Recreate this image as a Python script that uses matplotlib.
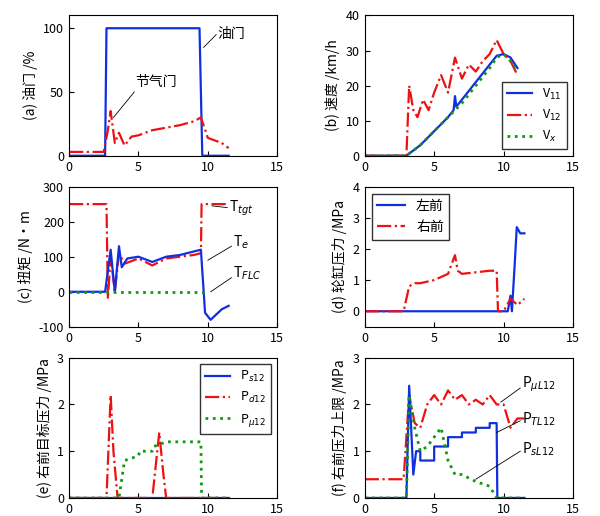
import matplotlib
matplotlib.use("Agg")
import matplotlib.pyplot as plt

plt.rcParams['font.family'] = ['Noto Sans CJK SC', 'DejaVu Sans']
plt.rcParams['axes.unicode_minus'] = False

B, R, G = '#1030e0', '#ee1111', '#119911'

# (a)
a_thr_t = [0, 2.6, 2.7, 9.4, 9.6, 11.5]
a_thr_v = [0, 0, 100, 100, 0, 0]
a_valve_t = [0, 2.5, 2.8, 3.0, 3.3, 3.6, 4.0, 4.5, 5, 6, 7, 8, 9, 9.5, 10, 11, 11.5]
a_valve_v = [3, 3, 20, 35, 10, 18, 8, 15, 16, 20, 22, 24, 27, 30, 14, 10, 6]
# (b)
b_v11_t = [0, 3.0, 4, 5, 6, 6.4, 6.5, 6.6, 7, 8, 9, 9.5, 10, 10.5, 11]
b_v11_v = [0, 0, 3, 7, 11, 13, 17, 14, 16, 21, 26, 28.5, 29, 28, 25]
b_v12_t = [0, 3.0, 3.2, 3.5, 3.8, 4.2, 4.6, 5.0, 5.5, 6.0, 6.5, 7.0, 7.5, 8, 8.5, 9, 9.5, 10, 10.5, 11]
b_v12_v = [0, 0, 20, 13, 11, 16, 13, 18, 23, 18, 28, 22, 26, 24, 27, 29, 33, 29, 27, 23]
b_vx_t = [0, 3.0, 4, 5, 6, 7, 8, 9, 9.5, 10, 10.5, 11]
b_vx_v = [0, 0, 3, 7, 11, 15, 20, 25, 28, 29, 27, 24]
# (c)
c_ttgt_t = [0, 2.7, 2.8, 3.0, 3.3, 3.6, 4, 5, 6, 7, 8, 9, 9.5, 9.55, 11.5]
c_ttgt_v = [250, 250, -20, 100, 0, 110, 80, 95, 75, 95, 100, 105, 110, 250, 250]
c_te_t = [0, 2.6, 3.0, 3.3, 3.6, 3.8, 4.2, 5, 6, 7, 8, 9, 9.5, 9.8, 10.2, 11, 11.5]
c_te_v = [0, 0, 120, 0, 130, 70, 95, 100, 85, 100, 105, 115, 120, -60, -80, -50, -40]
c_tflc_t = [0, 10]
c_tflc_v = [0, 0]
# (d)
d_left_t = [0, 10.3, 10.5, 10.6, 10.8, 10.95, 11.2, 11.5]
d_left_v = [0, 0, 0.5, 0, 1.5, 2.7, 2.5, 2.5]
d_right_t = [0, 2.8, 3.2, 3.6, 4, 5, 5.5, 6, 6.5, 6.7, 7, 8, 9, 9.5, 9.6, 10, 10.5, 11, 11.5]
d_right_v = [0, 0, 0.8, 0.9, 0.9, 1.0, 1.1, 1.2, 1.8, 1.3, 1.2, 1.25, 1.3, 1.3, 0, 0, 0.4, 0.2, 0.4]
# (e)
e_ps_t = [0, 11.5]
e_ps_v = [0, 0]
e_pd_t = [0, 2.7, 3.0, 3.2, 3.5, 6.0, 6.5, 6.8, 7.0, 11.5]
e_pd_v = [0, 0, 2.2, 1.0, 0, 0, 1.4, 0.5, 0, 0]
e_pm_t = [0, 3.6, 4.0, 5.0, 5.1, 6.0, 6.1, 7.0, 9.5, 9.55, 11.5]
e_pm_v = [0, 0, 0.8, 0.9, 1.0, 1.0, 1.1, 1.2, 1.2, 0, 0]
# (f)
f_pml_t = [0, 2.8, 3.2, 3.6, 4, 4.5, 5, 5.5, 6, 6.5, 7, 7.5, 8, 8.5, 9, 9.5, 10, 10.5, 11, 11.5]
f_pml_v = [0.4, 0.4, 2.2, 1.6, 1.5, 2.0, 2.2, 2.0, 2.3, 2.1, 2.2, 2.0, 2.1, 2.0, 2.2, 2.0, 2.0, 1.5, 1.7, 1.7]
f_ptl_t = [0, 3.0, 3.2, 3.5, 3.7, 4.0, 4.0, 5.0, 5.0, 6.0, 6.0, 7.0, 7.0, 8.0, 8.0, 9.0, 9.0, 9.5, 9.55, 11.5]
f_ptl_v = [0, 0, 2.4, 0.5, 1.0, 1.0, 0.8, 0.8, 1.1, 1.1, 1.3, 1.3, 1.4, 1.4, 1.5, 1.5, 1.6, 1.6, 0, 0]
f_psl_t = [0, 3.0, 3.2, 3.6, 4.0, 4.5, 5.0, 5.5, 6.0, 6.5, 7.0, 8.0, 9.0, 9.5, 11.5]
f_psl_v = [0, 0, 2.2, 1.5, 1.0, 1.1, 1.3, 1.5, 0.8, 0.5, 0.5, 0.35, 0.25, 0, 0]

fig, axs = plt.subplots(3, 2, figsize=(6, 5.16), dpi=100)
plt.subplots_adjust(left=0.115, right=0.955, top=0.97, bottom=0.035, wspace=0.42, hspace=0.22)
kw = dict(lw=1.6)

ax = axs[0, 0]
ax.plot(a_thr_t, a_thr_v, color=B, **kw)
ax.plot(a_valve_t, a_valve_v, color=R, ls='-.', **kw)
ax.set_ylim(0, 110); ax.set_yticks([0, 50, 100])
ax.set_ylabel('(a) 油门 /%')
ax.text(10.7, 92, '油门', fontsize=10)
ax.text(4.8, 55, '节气门', fontsize=10)
ax.plot([9.7, 10.6], [85, 95], color='k', lw=0.6)
ax.plot([3.2, 4.7], [30, 50], color='k', lw=0.6)

ax = axs[0, 1]
ax.plot(b_v11_t, b_v11_v, color=B, label='V$_{11}$', **kw)
ax.plot(b_v12_t, b_v12_v, color=R, ls='-.', label='V$_{12}$', **kw)
ax.plot(b_vx_t, b_vx_v, color=G, ls=':', label='V$_x$', lw=2)
ax.set_ylim(0, 40)
ax.set_ylabel('(b) 速度 /km/h')
ax.legend(loc='lower right', fancybox=False, edgecolor='k', fontsize=9)

ax = axs[1, 0]
ax.plot(c_ttgt_t, c_ttgt_v, color=R, ls='-.', **kw)
ax.plot(c_te_t, c_te_v, color=B, **kw)
ax.plot(c_tflc_t, c_tflc_v, color=G, ls=':', lw=2)
ax.set_ylim(-100, 300)
ax.set_ylabel('(c) 扭矩 /N·m')
ax.text(11.5, 230, 'T$_{tgt}$'); ax.plot([10.3, 11.4], [245, 240], color='k', lw=0.6)
ax.text(11.8, 130, 'T$_e$'); ax.plot([10.0, 11.7], [90, 130], color='k', lw=0.6)
ax.text(11.8, 40, 'T$_{FLC}$'); ax.plot([10.2, 11.7], [0, 40], color='k', lw=0.6)

ax = axs[1, 1]
ax.plot(d_left_t, d_left_v, color=B, label='左前', **kw)
ax.plot(d_right_t, d_right_v, color=R, ls='-.', label='右前', **kw)
ax.set_ylim(-0.5, 4)
ax.set_ylabel('(d) 轮缸压力 /MPa')
ax.legend(loc='upper left', fancybox=False, edgecolor='k', fontsize=10)

ax = axs[2, 0]
ax.plot(e_ps_t, e_ps_v, color=B, label='P$_{s12}$', **kw)
ax.plot(e_pd_t, e_pd_v, color=R, ls='-.', label='P$_{d12}$', **kw)
ax.plot(e_pm_t, e_pm_v, color=G, ls=':', label='P$_{\\mu12}$', lw=2)
ax.set_ylim(0, 3)
ax.set_ylabel('(e) 右前目标压力 /MPa')
ax.legend(loc='upper right', fancybox=False, edgecolor='k', fontsize=9)

ax = axs[2, 1]
ax.plot(f_pml_t, f_pml_v, color=R, ls='-.', **kw)
ax.plot(f_ptl_t, f_ptl_v, color=B, **kw)
ax.plot(f_psl_t, f_psl_v, color=G, ls=':', lw=2)
ax.set_ylim(0, 3)
ax.set_ylabel('(f) 右前压力上限 /MPa')
ax.text(11.3, 2.35, 'P$_{\\mu L12}$'); ax.plot([9.8, 11.2], [2.05, 2.35], color='k', lw=0.6)
ax.text(11.3, 1.6, 'P$_{TL12}$'); ax.plot([9.5, 11.2], [1.4, 1.65], color='k', lw=0.6)
ax.text(11.3, 0.95, 'P$_{sL12}$'); ax.plot([8.0, 11.2], [0.4, 1.0], color='k', lw=0.6)

for ax in axs.flat:
    ax.set_xlim(0, 15)
    ax.set_xticks([0, 5, 10, 15])
    ax.tick_params(direction='in', labelsize=9)
    ax.yaxis.label.set_size(10)

fig.savefig('out.png')
